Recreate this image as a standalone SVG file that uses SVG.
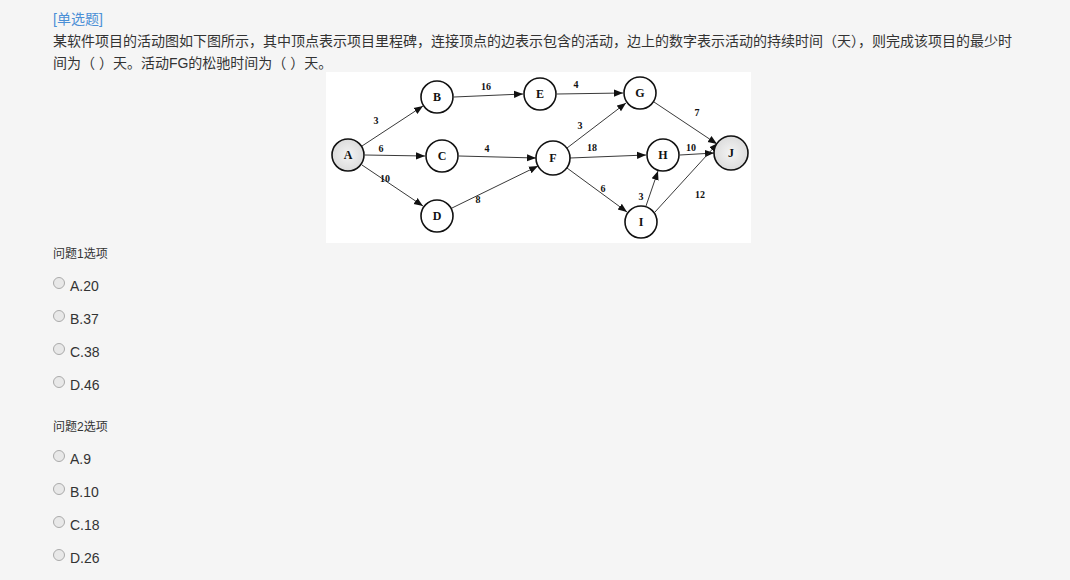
<svg xmlns="http://www.w3.org/2000/svg" width="1070" height="580" viewBox="0 0 1070 580">
<style>
.t{font-family:"Liberation Sans","Noto Sans CJK SC",sans-serif;fill:#333}
.n circle{fill:#fff;stroke:#111;stroke-width:1.6}
.n text,.l{font-family:"Liberation Serif",serif;font-weight:bold;fill:#111}
.n text{font-size:12px;text-anchor:middle}
.l{font-size:10px;text-anchor:middle}
.e line{stroke:#222;stroke-width:0.9;marker-end:url(#ah)}
.r{fill:#e8e8e8;stroke:#aaa}
</style>
<defs>
<marker id="ah" viewBox="0 0 10 10" refX="10" refY="5" markerWidth="9" markerHeight="9" markerUnits="userSpaceOnUse" orient="auto"><path d="M0,1L10,5L0,9z" fill="#111"/></marker>
<radialGradient id="g"><stop offset="0" stop-color="#f4f4f4"/><stop offset="1" stop-color="#dcdcdc"/></radialGradient>
</defs>
<rect width="1070" height="580" fill="#f5f5f5"/>
<text class="t" x="53" y="24" font-size="14" style="fill:#4a8fd6">[单选题]</text>
<text class="t" x="53" y="46" font-size="14">某软件项目的活动图如下图所示，其中顶点表示项目里程碑，连接顶点的边表示包含的活动，边上的数字表示活动的持续时间（天），则完成该项目的最少时</text>
<text class="t" x="53" y="68" font-size="14">间为（ ）天。活动FG的松驰时间为（ ）天。</text>
<rect x="326" y="72" width="425" height="171" fill="#fff"/>
<g class="e" id="edges">
<line x1="362" y1="146" x2="423" y2="106"/>
<line x1="365" y1="155" x2="425" y2="156"/>
<line x1="362" y1="165" x2="423" y2="206"/>
<line x1="454" y1="97" x2="523" y2="94"/>
<line x1="557" y1="94" x2="623" y2="93"/>
<line x1="459" y1="156" x2="536" y2="158"/>
<line x1="452" y1="208" x2="538" y2="166"/>
<line x1="567" y1="148" x2="626" y2="103"/>
<line x1="570" y1="158" x2="646" y2="155"/>
<line x1="567" y1="168" x2="627" y2="212"/>
<line x1="654" y1="102" x2="717" y2="144"/>
<line x1="680" y1="155" x2="714" y2="153"/>
<line x1="646" y1="206" x2="658" y2="171"/>
<line x1="655" y1="212" x2="718" y2="143"/>
</g>
<g>
<text class="l" x="376" y="124">3</text><text class="l" x="381" y="152">6</text><text class="l" x="385" y="182">10</text>
<text class="l" x="486" y="90">16</text><text class="l" x="487" y="152">4</text><text class="l" x="478" y="203">8</text>
<text class="l" x="576" y="88">4</text><text class="l" x="580" y="129">3</text><text class="l" x="592" y="151">18</text>
<text class="l" x="603" y="192">6</text><text class="l" x="697" y="116">7</text><text class="l" x="691" y="151">10</text>
<text class="l" x="641" y="200">3</text><text class="l" x="700" y="198">12</text>
</g>
<g class="n" id="A"><circle cx="348" cy="155" r="16" style="fill:url(#g)"/><text x="348" y="159">A</text></g>
<g class="n" id="B"><circle cx="437" cy="97" r="16"/><text x="437" y="101">B</text></g>
<g class="n" id="C"><circle cx="442" cy="156" r="16"/><text x="442" y="160">C</text></g>
<g class="n" id="D"><circle cx="437" cy="216" r="16"/><text x="437" y="220">D</text></g>
<g class="n" id="E"><circle cx="540" cy="94" r="16"/><text x="540" y="98">E</text></g>
<g class="n" id="F"><circle cx="553" cy="158" r="17"/><text x="553" y="162">F</text></g>
<g class="n" id="G"><circle cx="640" cy="93" r="16"/><text x="640" y="97">G</text></g>
<g class="n" id="H"><circle cx="663" cy="155" r="16"/><text x="663" y="159">H</text></g>
<g class="n" id="I"><circle cx="641" cy="222" r="16"/><text x="641" y="226">I</text></g>
<g class="n" id="J"><circle cx="731" cy="153" r="17" style="fill:url(#g)"/><text x="731" y="157">J</text></g>
<text class="t" x="53" y="258" font-size="12">问题1选项</text>
<circle class="r" cx="59" cy="283" r="5.5"/><text class="t" x="70" y="291" font-size="14">A.20</text>
<circle class="r" cx="59" cy="316" r="5.5"/><text class="t" x="70" y="324" font-size="14">B.37</text>
<circle class="r" cx="59" cy="349" r="5.5"/><text class="t" x="70" y="357" font-size="14">C.38</text>
<circle class="r" cx="59" cy="382" r="5.5"/><text class="t" x="70" y="390" font-size="14">D.46</text>
<text class="t" x="53" y="431" font-size="12">问题2选项</text>
<circle class="r" cx="59" cy="456" r="5.5"/><text class="t" x="70" y="464" font-size="14">A.9</text>
<circle class="r" cx="59" cy="489" r="5.5"/><text class="t" x="70" y="497" font-size="14">B.10</text>
<circle class="r" cx="59" cy="522" r="5.5"/><text class="t" x="70" y="530" font-size="14">C.18</text>
<circle class="r" cx="59" cy="555" r="5.5"/><text class="t" x="70" y="563" font-size="14">D.26</text>
</svg>
